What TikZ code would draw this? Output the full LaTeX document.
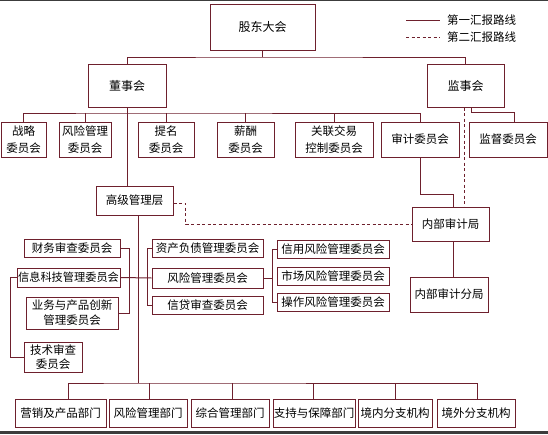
\documentclass[tikz,border=0pt]{standalone}
\usepackage{fontspec}
\newfontfamily\cjk{Noto Sans CJK SC}
\definecolor{boxred}{RGB}{110,32,45}
\definecolor{edgegray}{RGB}{60,60,60}
\begin{document}
\begin{tikzpicture}[x=1pt,y=-1pt,
  box/.style={draw=boxred, line width=1pt, fill=white, inner sep=0pt, align=center,
    font=\cjk\fontsize{11.5}{17}\selectfont},
  conn/.style={draw=boxred, line width=1pt},
  dconn/.style={conn, dash pattern=on 3pt off 2.5pt},
  legtext/.style={inner sep=0pt, anchor=west, font=\cjk\fontsize{11.5}{14}\selectfont}]
\useasboundingbox (0,0) rectangle (548,434);
\fill[white] (0,0) rectangle (548,434);
\fill[edgegray] (0,0) rectangle (548,1.3);
\fill[edgegray] (0,430.5) rectangle (548,434);

% legend
\node[legtext] (lt1) at (447,20) {第一汇报路线};
\node[legtext] (lt2) at (447,37) {第二汇报路线};
\coordinate (la1) at (406,20);
\coordinate (la2) at (406,37);
\draw[conn] (la1) -- ([xshift=-7]lt1.west);
\draw[dconn] (la2) -- ([xshift=-7]lt2.west);

% top
\node[box, minimum width=105, minimum height=46, font=\cjk\fontsize{12}{14}\selectfont] (gd) at (262.5,27) {股东大会};
\node[box, minimum width=78, minimum height=43, font=\cjk\fontsize{12}{14}\selectfont] (dsh) at (127,85.5) {董事会};
\node[box, minimum width=77, minimum height=43, font=\cjk\fontsize{12}{14}\selectfont] (jsh) at (465.5,85.5) {监事会};

% board committees
\node[box, minimum width=45, minimum height=35] (zl) at (23.5,139.5) {战略\\委员会};
\node[box, minimum width=52, minimum height=35] (fx) at (85,139.5) {风险管理\\委员会};
\node[box, minimum width=56, minimum height=35] (tm) at (166,139.5) {提名\\委员会};
\node[box, minimum width=57, minimum height=35] (xc) at (245.5,139.5) {薪酬\\委员会};
\node[box, minimum width=78, minimum height=35] (gl) at (334,139.5) {关联交易\\控制委员会};
\node[box, minimum width=78, minimum height=35] (sj) at (420,139.5) {审计委员会};
\node[box, minimum width=78, minimum height=35] (jd) at (508,139.5) {监督委员会};

% management
\node[box, minimum width=77, minimum height=29] (gj) at (134.5,200.5) {高级管理层};
\node[box, minimum width=77, minimum height=34] (nb) at (450.5,224) {内部审计局};
\node[box, minimum width=78, minimum height=35] (nbf) at (449,294.5) {内部审计分局};

% left committees
\node[box, minimum width=96, minimum height=18] (cw) at (72,248) {财务审查委员会};
\node[box, minimum width=103, minimum height=19, font=\cjk\fontsize{11.2}{14}\selectfont] (xx) at (68.5,277.5) {信息科技管理委员会};
\node[box, minimum width=92, minimum height=32, font=\cjk\fontsize{11.5}{15}\selectfont] (yw) at (72,313) {业务与产品创新\\管理委员会};
\node[box, minimum width=58, minimum height=30, font=\cjk\fontsize{11.5}{14}\selectfont] (js) at (53,357) {技术审查\\委员会};

% middle committees
\node[box, minimum width=111, minimum height=18] (zc) at (207.5,248) {资产负债管理委员会};
\node[box, minimum width=111, minimum height=20] (fm) at (207.5,278) {风险管理委员会};
\node[box, minimum width=111, minimum height=18] (xd) at (207.5,305) {信贷审查委员会};

% right committees
\node[box, minimum width=112, minimum height=18] (xy) at (333,249) {信用风险管理委员会};
\node[box, minimum width=112, minimum height=18] (sc) at (333,276) {市场风险管理委员会};
\node[box, minimum width=112, minimum height=18] (cz) at (333,302) {操作风险管理委员会};

% departments
\node[box, minimum width=91, minimum height=28] (b1) at (60.5,413) {营销及产品部门};
\node[box, minimum width=78, minimum height=28] (b2) at (148,413) {风险管理部门};
\node[box, minimum width=78, minimum height=28] (b3) at (230,413) {综合管理部门};
\node[box, minimum width=82, minimum height=28] (b4) at (314,413) {支持与保障部门};
\node[box, minimum width=74, minimum height=28] (b5) at (395,413) {境内分支机构};
\node[box, minimum width=78, minimum height=28] (b6) at (476,413) {境外分支机构};

% connectors: top
\coordinate (r1) at (262.5,57);
\draw[conn] (gd.south) -- (r1);
\draw[conn] (dsh.north) |- (r1) -| (jsh.north);

% board committees
\coordinate (r2) at (127,113);
\draw[conn] (zl.north) |- (r2) -| (sj.north);
\draw[conn] (fx.north) -- (fx.north |- r2);
\draw[conn] (tm.north) -- (tm.north |- r2);
\draw[conn] (xc.north) -- (xc.north |- r2);
\draw[conn] (gl.north) -- (gl.north |- r2);
\draw[conn] (dsh.south) -- (dsh.south |- gj.north);

% supervisory
\coordinate (r5) at (514,112);
\draw[conn] ([xshift=5.5]jsh.south) |- (r5) -- (r5 |- jd.north);
\draw[dconn] ([xshift=-1.5]jsh.south) -- ([xshift=-1.5]jsh.south |- nb.north);

% audit
\coordinate (r3) at (453,194);
\draw[conn] (sj.south) |- (r3) -- (r3 |- nb.north);
\draw[conn] ([xshift=2.5]nb.south) -- ([xshift=2.5]nb.south |- nbf.north);

% management dashed
\draw[dconn] ([yshift=-2.5]gj.east) -- ++(12,0) |- (nb.west);

% management trunk
\coordinate (r4) at (138,383);
\draw[conn] ([xshift=3.5]gj.south) -- (r4);
\draw[conn] ([xshift=7.5]b1.north) |- (r4) -| ([xshift=1]b6.north);
\draw[conn] ([xshift=1]b2.north) -- ([xshift=1]b2.north |- r4);
\draw[conn] ([xshift=2]b3.north) -- ([xshift=2]b3.north |- r4);
\draw[conn] ([xshift=-1]b4.north) -- ([xshift=-1]b4.north |- r4);
\draw[conn] (b5.north) -- (b5.north |- r4);

% committee brackets
\draw[conn] (xx.east) -- (fm.west);
\draw[conn] (cw.east) -- ++(9,0) |- (yw.east);
\draw[conn] (xx.west) -- ++(-6,0) |- (js.west);
\draw[conn] (zc.west) -- ++(-4,0) |- (xd.west);
\draw[conn] (xy.west) -- ++(-4,0) |- (cz.west);
\draw[conn] (fm.east) -- ([xshift=-4]xy.west |- fm.east);
\end{tikzpicture}
\end{document}
